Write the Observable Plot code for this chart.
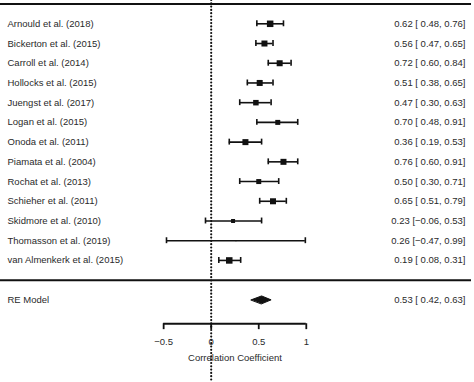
<!DOCTYPE html>
<html>
<head>
<meta charset="utf-8">
<script src="https://cdn.jsdelivr.net/npm/d3@7"></script>
<script src="https://cdn.jsdelivr.net/npm/@observablehq/plot@0.6"></script>
<style>
  html, body { margin: 0; padding: 0; background: #fff; }
  #chart svg { display: block; }
</style>
</head>
<body>
<div id="chart"></div>
<script>
const studies = [
  "Arnould et al. (2018)", "Bickerton et al. (2015)", "Carroll et al. (2014)",
  "Hollocks et al. (2015)", "Juengst et al. (2017)", "Logan et al. (2015)",
  "Onoda et al. (2011)", "Piamata et al. (2004)", "Rochat et al. (2013)",
  "Schieher et al. (2011)", "Skidmore et al. (2010)", "Thomasson et al. (2019)",
  "van Almenkerk et al. (2015)"
];
const estimates = [0.62, 0.56, 0.72, 0.51, 0.47, 0.70, 0.36, 0.76, 0.50, 0.65, 0.23, 0.26, 0.19];
const lowers    = [0.48, 0.47, 0.60, 0.38, 0.30, 0.48, 0.19, 0.60, 0.30, 0.51, -0.06, -0.47, 0.08];
const uppers    = [0.76, 0.65, 0.84, 0.65, 0.63, 0.91, 0.53, 0.91, 0.71, 0.79, 0.53, 0.99, 0.31];
const weights   = [6.5, 6, 6, 6, 5.5, 5, 6, 6, 5, 6, 4, 1, 6.5];
const reLabel = "RE Model";
const reEstimate = 0.53, reLower = 0.42, reUpper = 0.63;
const tickValues = [-0.5, 0, 0.5, 1];
const tickLabels = ["\u22120.5", "0", "0.5", "1"];
const xLabel = "Correlation Coefficient";

const fmt = v => (v < 0 ? "\u2212" + Math.abs(v).toFixed(2) : " " + v.toFixed(2));
const rows = studies.map((s, i) => ({
  i, study: s, est: estimates[i], lo: lowers[i], hi: uppers[i], w: weights[i],
  label: `${estimates[i].toFixed(2)} [${fmt(lowers[i])}, ${uppers[i].toFixed(2)}]`
}));
const reRow = studies.length + 1;
const sepRow = studies.length;
const axisRow = reRow + 1.21;
const summary = [{ i: reRow, study: reLabel, label: `${reEstimate.toFixed(2)} [${fmt(reLower)}, ${reUpper.toFixed(2)}]` }];
const diamond = [
  { x: reLower, y: reRow }, { x: reEstimate, y: reRow - 0.2 },
  { x: reUpper, y: reRow }, { x: reEstimate, y: reRow + 0.2 }
];
const ticks = tickValues.map((v, k) => ({ v, label: tickLabels[k] }));

const textColor = "#2a2a2a";
const font = "'Liberation Sans', Arial, sans-serif";

const chart = Plot.plot({
  width: 474,
  height: 382,
  margin: 0,
  style: { fontFamily: font, fontSize: "9.5px", background: "#fff" },
  x: { domain: [-2.2155, 2.7687], range: [0, 474], axis: null },
  y: { domain: [-1.1815, 18.19], range: [0, 382], axis: null },
  r: { type: "linear", domain: [0, 6.5], range: [0, 3.67] },
  marks: [
    Plot.ruleY([-1, sepRow], { stroke: "#111", strokeWidth: 2, insetRight: 3 }),
    Plot.ruleX([0], { stroke: "#111", strokeWidth: 2.2, strokeDasharray: "0,3.3", strokeLinecap: "round" }),
    Plot.ruleY(rows, { y: "i", x1: "lo", x2: "hi", stroke: "#111", strokeWidth: 1.6 }),
    Plot.ruleX(rows, { x: "lo", y1: d => d.i - 0.15, y2: d => d.i + 0.15, stroke: "#111", strokeWidth: 1.6 }),
    Plot.ruleX(rows, { x: "hi", y1: d => d.i - 0.15, y2: d => d.i + 0.15, stroke: "#111", strokeWidth: 1.6 }),
    Plot.dot(rows, { x: "est", y: "i", r: "w", symbol: "square", fill: "#111", stroke: null }),
    Plot.line(diamond, { x: "x", y: "y", curve: "linear-closed", fill: "#111", stroke: "#111", strokeWidth: 1 }),
    Plot.text(rows.concat(summary), { y: "i", text: "study", frameAnchor: "left", dx: 7, textAnchor: "start", fill: textColor }),
    Plot.text(rows.concat(summary), { y: "i", text: "label", frameAnchor: "right", dx: -9, textAnchor: "end", fill: textColor }),
    Plot.ruleY([axisRow], { x1: tickValues[0], x2: tickValues[tickValues.length - 1], stroke: "#111", strokeWidth: 1.8 }),
    Plot.ruleX(ticks, { x: "v", y1: axisRow, y2: axisRow + 0.3, stroke: "#111", strokeWidth: 1.8 }),
    Plot.text(ticks, { x: "v", y: () => axisRow, dy: 18, text: "label", fill: textColor }),
    Plot.text([xLabel], { x: () => (tickValues[0] + tickValues[tickValues.length - 1]) / 2, y: () => axisRow, dy: 34, text: d => d, fill: textColor })
  ]
});
document.getElementById("chart").appendChild(chart);
</script>
</body>
</html>
